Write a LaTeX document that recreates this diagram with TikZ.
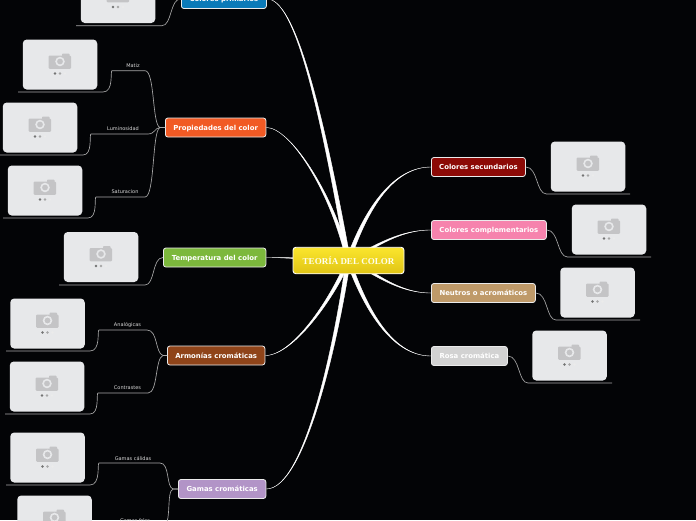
\documentclass[tikz,border=0pt]{standalone}
\usepackage{fontspec}
\setmainfont{DejaVu Sans}
\newfontfamily\titlefont{Liberation Serif}
\usetikzlibrary{calc}
\definecolor{bgc}{HTML}{030406}
\definecolor{cardc}{HTML}{E7E8EA}
\definecolor{camc}{HTML}{C4C4C6}
\definecolor{linkc}{HTML}{A8A8A8}
\definecolor{ytop}{HTML}{FBE62E}
\definecolor{ybot}{HTML}{E0C414}
\tikzset{
  topic/.style={draw=white!92!black,line width=0.8pt,rounded corners=2.5pt,text=white,font=\fontsize{6.9}{8}\selectfont\bfseries,minimum height=19pt,text height=6pt,text depth=1pt,inner sep=0pt,anchor=west},
  centre/.style={draw=white,line width=0.9pt,rounded corners=3pt,text=white!92!yellow,font=\titlefont\fontsize{9}{10}\selectfont\bfseries,minimum width=111pt,minimum height=26.5pt,inner sep=0pt,top color=ytop,bottom color=ybot},
  card/.style={fill=cardc,rounded corners=4pt,minimum width=74.5pt,minimum height=50pt,inner sep=0pt},
  leaf/.style={text=white!85!black,font=\fontsize{5}{6}\selectfont,inner sep=0pt},
  thinlink/.style={draw=linkc,line width=0.65pt},
  taper/.style={fill=white,draw=white,line width=0.35pt}
}
\newcommand{\cardat}[3]{%
  \node[card] (#1) at (#2,#3) {};
  \fill[camc,rounded corners=1pt] ($(#1.center)+(-11.3,-9)$) rectangle ($(#1.center)+(11,4.3)$);
  \fill[camc,rounded corners=0.7pt] ($(#1.center)+(2,-10.8)$) rectangle ($(#1.center)+(9.5,-8)$);
  \draw[cardc,line width=1.6pt] ($(#1.center)+(0,-3)$) circle (3.9pt);
  \fill[black!55] ($(#1.center)+(-5,9)$) circle (1.3pt);
  \fill[black!35] ($(#1.center)+(0,9)$) circle (1.3pt);
  \fill[black!8] ($(#1.center)+(5,9)$) circle (1.3pt);
}
\newcommand{\tapered}[4]{%
  \fill[taper] (cL) .. controls #2 and #3 .. (#1) .. controls #3 and #4 .. (cR) -- cycle;
}
\begin{document}
\begin{tikzpicture}[x=1pt,y=-1pt]
\useasboundingbox (0,0) rectangle (696,520);
\clip (0,0) rectangle (696,520);
\fill[bgc] (0,0) rectangle (696,520);

\coordinate (cL) at (346,260);
\coordinate (cR) at (350.5,260);

% topics
\node[topic,minimum width=85pt,fill={rgb,255:red,10;green,122;blue,184}] (prim) at (181,-1) {Colores primarios};
\node[topic,minimum width=100.5pt,fill={rgb,255:red,241;green,90;blue,36}] (prop) at (165,127.5) {Propiedades del color};
\node[topic,minimum width=102.5pt,fill={rgb,255:red,124;green,184;blue,60}] (temp) at (163,257.5) {Temperatura del color};
\node[topic,minimum width=97.5pt,fill={rgb,255:red,143;green,68;blue,25}] (armo) at (167,355.5) {Armonías cromáticas};
\node[topic,minimum width=87.5pt,fill={rgb,255:red,178;green,148;blue,199}] (gama) at (178,489) {Gamas cromáticas};
\node[topic,minimum width=94pt,fill={rgb,255:red,140;green,10;blue,6}] (sec) at (431,167) {Colores secundarios};
\node[topic,minimum width=115pt,fill={rgb,255:red,246;green,131;blue,173}] (comp) at (431,230) {Colores complementarios};
\node[topic,minimum width=104pt,fill={rgb,255:red,191;green,154;blue,105}] (neut) at (431,293) {Neutros o acromáticos};
\node[topic,minimum width=76pt,fill={rgb,255:red,210;green,210;blue,210}] (rosa) at (431,356) {Rosa cromática};

% tapered main branches
\tapered{prim.east}{(320,110)}{(295,-2)}{(323,110)}
\tapered{prop.east}{(330,190)}{(290,127.5)}{(333,192)}
\tapered{temp.east}{(320,258)}{(290,257.5)}{(320,261)}
\tapered{armo.east}{(335,290)}{(295,355.5)}{(338,292)}
\tapered{gama.east}{(335,340)}{(305,489)}{(338,342)}
\tapered{sec.west}{(362,215)}{(390,167)}{(365,217)}
\tapered{comp.west}{(368,250)}{(395,230)}{(370,253)}
\tapered{neut.west}{(368,270)}{(395,293)}{(370,267)}
\tapered{rosa.west}{(362,305)}{(390,356)}{(365,303)}

\node[centre] (c) at (348.5,260.5) {TEORÍA DEL COLOR};

% cards
\cardat{ia}{118}{-2}
\cardat{ib}{60}{64.5}
\cardat{ic}{40}{127.5}
\cardat{id}{45}{190.5}
\cardat{ie}{101}{257}
\cardat{if}{47.5}{323.5}
\cardat{ig}{47}{386.5}
\cardat{ih}{47.5}{457.5}
\cardat{ii}{54.5}{520.5}
\cardat{ij}{588}{166.5}
\cardat{ik}{609}{229.5}
\cardat{il}{597.5}{292.5}
\cardat{im}{569.5}{355.5}

% leaf labels
\node[leaf,anchor=base] (lm) at (133,67) {Matiz};
\node[leaf,anchor=base] (ll) at (123,130) {Luminosidad};
\node[leaf,anchor=base] (ls) at (125,193) {Saturacion};
\node[leaf,anchor=base] (la) at (127.5,326) {Analógicas};
\node[leaf,anchor=base] (lc) at (127.5,389) {Contrastes};
\node[leaf,anchor=base] (lg) at (133,460) {Gamas cálidas};
\node[leaf,anchor=base] (lf) at (135,522) {Gamas frías};

\foreach \n/\x/\y in {
  pa/162/25.7,pb/76/25.7,
  mr/145/70.7,ml/112/70.7,mc/103/92,me/18/92,
  lr/148/134,lq/91/134,lc1/83/155,le/0/155,
  sr/145/197,sl/96/197,sc/88/218,se/3/218,
  tc/145/285,te/59/285,
  ar/147/330,al/99/330,ac/90/351,ae/6/351,
  br/148/393,bl/98/393,bc/90/414,be/5/414,
  gr/160/463,gl/99/463,gc/90/485,ge/6/485,
  fr/163/526,fl/105/526,
  jc/546.5/194,je/630/194,
  kc/567.5/257,ke/651/257,
  nc/556/320,ne/640/320,
  oc/528/383,oe/612/383}
  {\coordinate (\n) at (\x,\y);}

% thin connectors
\draw[thinlink] (prim.west) .. controls (170,-2) and (172,25.7) .. (pa) -- (pb);
\draw[thinlink] (prop.west) -- (160,127.5) .. controls (152,125) and (155,70.7) .. (mr) -- (ml) .. controls (110,71) and (114,92) .. (mc) -- (me);
\draw[thinlink] (prop.west) -- (160,127.5) .. controls (155,127.5) and (155,134) .. (lr) -- (lq) .. controls (89,134) and (93,155) .. (lc1) -- (le);
\draw[thinlink] (prop.west) -- (160,127.5) .. controls (152,130) and (155,197) .. (sr) -- (sl) .. controls (94,197) and (98,218) .. (sc) -- (se);
\draw[thinlink] (temp.west) .. controls (152,257.5) and (155,285) .. (tc) -- (te);
\draw[thinlink] (armo.west) -- (163,355.5) .. controls (155,353) and (158,330) .. (ar) -- (al) .. controls (97,330) and (101,351) .. (ac) -- (ae);
\draw[thinlink] (armo.west) -- (163,355.5) .. controls (155,358) and (158,393) .. (br) -- (bl) .. controls (96,393) and (100,414) .. (bc) -- (be);
\draw[thinlink] (gama.west) -- (173,489) .. controls (166,487) and (170,463) .. (gr) -- (gl) .. controls (97,463) and (101,485) .. (gc) -- (ge);
\draw[thinlink] (gama.west) -- (173,489) .. controls (166,491) and (172,526) .. (fr) -- (fl);
\draw[thinlink] (sec.east) .. controls (538,167) and (536,194) .. (jc) -- (je);
\draw[thinlink] (comp.east) .. controls (559,230) and (557,257) .. (kc) -- (ke);
\draw[thinlink] (neut.east) .. controls (548,293) and (546,320) .. (nc) -- (ne);
\draw[thinlink] (rosa.east) .. controls (520,356) and (518,383) .. (oc) -- (oe);
\end{tikzpicture}
\end{document}
